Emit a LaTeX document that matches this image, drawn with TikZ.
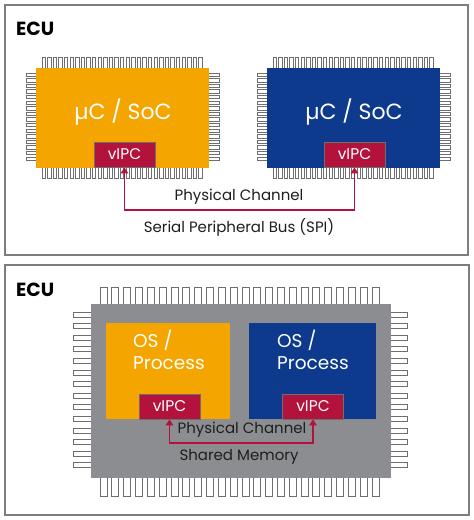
\documentclass[tikz,border=0pt]{standalone}
\usepackage{fontspec}
\setmainfont{Poppins}
\usetikzlibrary{arrows.meta,positioning}

\definecolor{chiporange}{HTML}{F4A500}
\definecolor{chipblue}{HTML}{0D3A8C}
\definecolor{ipcred}{HTML}{B3123C}
\definecolor{chipgray}{HTML}{8B8D90}
\definecolor{pingray}{HTML}{6E6E6E}
\definecolor{textdark}{HTML}{1E1E1E}

\tikzset{
  panel/.style={draw=pingray!90,line width=1.3pt,fill=white},
  pin/.style={draw=pingray,line width=0.9pt,fill=white},
  body/.style={inner sep=0pt,anchor=north west},
  ipc/.style={fill=ipcred,draw=pingray,line width=0.8pt,text=white,
    minimum width=61pt,minimum height=25pt,inner sep=0pt,
    font=\fontsize{15.5}{18}\selectfont},
  link/.style={ipcred,line width=1.8pt,
    {Triangle[width=7.5pt,length=6pt]}-{Triangle[width=7.5pt,length=6pt]}},
  caption/.style={text=textdark,font=\fontsize{15}{17}\selectfont},
  ecu/.style={text=black,font=\bfseries\fontsize{19}{21}\selectfont,anchor=base west,inner sep=0pt}
}

\begin{document}
\begin{tikzpicture}[x=1pt,y=-1pt]
\useasboundingbox (0,0) rectangle (474,520);

% upper ECU: two separate controllers joined by SPI
\draw[panel] (5,5) rectangle (468,255);
\node[ecu] (ecuA) at (16,35) {ECU};

\foreach \ox/\col/\nm in {0/chiporange/socA,231/chipblue/socB} {
  \foreach \i in {0,...,28} {
    \draw[pin] ({\ox+42+5.6*\i},57) rectangle ++(3.5,13);
    \draw[pin] ({\ox+42+5.6*\i},166) rectangle ++(3.5,12);
  }
  \foreach \i in {0,...,15} {
    \draw[pin] ({\ox+26},{73+5.6*\i}) rectangle ++(12,3.5);
    \draw[pin] ({\ox+207},{73+5.6*\i}) rectangle ++(12,3.5);
  }
  \node[body,fill=\col,minimum width=173pt,minimum height=100pt] (\nm) at ({\ox+36},68) {};
  \node[text=white,font=\fontsize{22}{26}\selectfont] (\nm-name) at ({\ox+123},112) {µC / SoC};
}

\node[ipc] (ipcA) at (124.5,154.5) {vIPC};
\node[ipc] (ipcB) at (354.5,154.5) {vIPC};

\coordinate (spi) at (0,210);
\draw[link] (ipcA.south) -- (ipcA.south |- spi) -| (ipcB.south);
\node[caption] (physA) at (239,197) {Physical Channel};
\node[caption] (spiname) at (239,227) {Serial Peripheral Bus (SPI)};

% lower ECU: one chip, two partitions sharing memory
\draw[panel] (5,265) rectangle (469,515);
\node[ecu] (ecuB) at (16,296) {ECU};

\foreach \i in {0,...,23} {
  \draw[pin] ({100+11.83*\i},287) rectangle ++(7,19);
  \draw[pin] ({100+11.83*\i},476) rectangle ++(7,20);
}
\foreach \i in {0,...,13} {
  \draw[pin] (73,{312+11.6*\i}) rectangle ++(20,5);
  \draw[pin] (389,{312+11.6*\i}) rectangle ++(18,5);
}
\node[body,fill=chipgray,minimum width=300pt,minimum height=174pt] (host) at (91,304) {};

\node[body,fill=chiporange,minimum width=124pt,minimum height=96pt] (osA) at (106,323) {};
\node[body,fill=chipblue,minimum width=127pt,minimum height=96pt] (osB) at (249,323) {};
\node[body,text=white,align=left,font=\fontsize{18.5}{22}\selectfont] (osA-name) at (133,330) {OS /\\Process};
\node[body,text=white,align=left,font=\fontsize{18.5}{22}\selectfont] (osB-name) at (277,330) {OS /\\Process};

\node[ipc] (ipcC) at (169.5,406.5) {vIPC};
\node[ipc] (ipcD) at (313,406.5) {vIPC};

\coordinate (shm) at (0,443);
\draw[link] (ipcC.south) -- (ipcC.south |- shm) -| (ipcD.south);
\node[caption] (physB) at (242,430) {Physical Channel};
\node[caption] (shmname) at (239,457) {Shared Memory};
\end{tikzpicture}
\end{document}
